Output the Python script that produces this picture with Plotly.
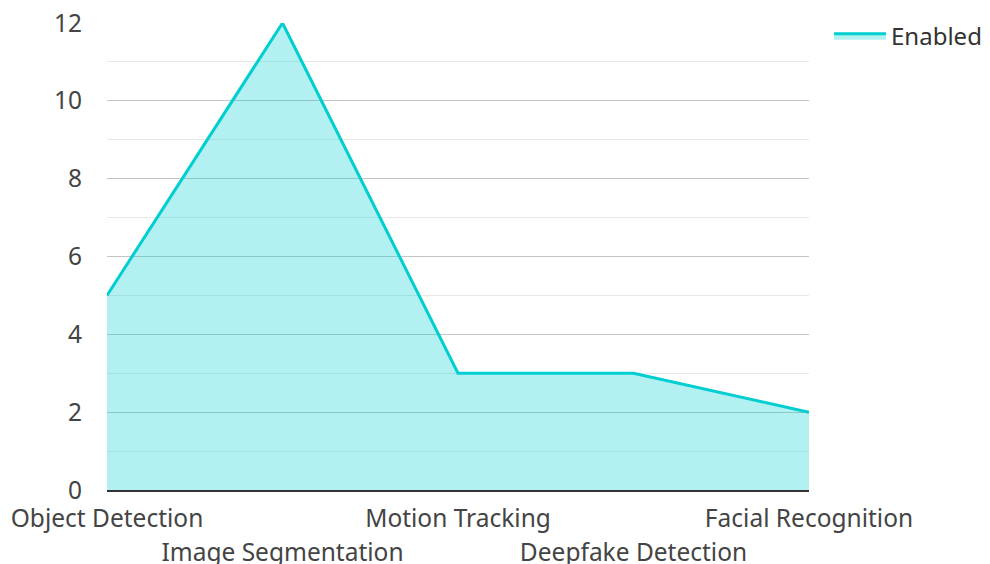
import plotly.graph_objects as go

categories = ["Object Detection", "Image Segmentation", "Motion Tracking", "Deepfake Detection", "Facial Recognition"]
values = [5, 12, 3, 3, 2]
series_name = "Enabled"

row1 = [c for i, c in enumerate(categories) if i % 2 == 0]
row2 = [c for i, c in enumerate(categories) if i % 2 == 1]

FONT = "Noto Sans"
fig = go.Figure()
fig.add_trace(go.Scatter(
    x=categories, y=values, name=series_name, mode="lines",
    line=dict(color="#00CED1", width=3),
    fill="tozeroy", fillcolor="rgba(0,206,209,0.3)",
))
fig.add_trace(go.Scatter(
    x=categories, y=values, xaxis="x2", mode="lines", showlegend=False,
    line=dict(width=0), opacity=0, hoverinfo="skip",
))
fig.update_layout(
    width=982, height=556,
    margin=dict(l=99, r=181, t=15, b=74, autoexpand=False),
    paper_bgcolor="white", plot_bgcolor="white",
    font=dict(family=FONT, size=24.5, color="#444"),
    showlegend=True,
    legend=dict(x=1.0285, y=0.972, xanchor="left", yanchor="middle",
                itemwidth=52,
                font=dict(size=24, color="#333"), bgcolor="rgba(0,0,0,0)"),
    xaxis=dict(
        type="category", categoryorder="array", categoryarray=categories,
        range=[0, len(categories) - 1], automargin=False,
        tickmode="array", tickvals=row1, ticktext=row1,
        showgrid=False, zeroline=False, showline=True, linecolor="#333", linewidth=2,
        ticks="", ticklabelstandoff=6, ticklabeloverflow="allow",
    ),
    xaxis2=dict(
        type="category", categoryorder="array", categoryarray=categories,
        overlaying="x", side="bottom", matches="x", automargin=False,
        tickmode="array", tickvals=row2, ticktext=row2,
        showgrid=False, zeroline=False, showline=False,
        ticks="", ticklabelstandoff=45, ticklabeloverflow="allow",
    ),
    yaxis=dict(
        range=[0, 12], dtick=2, tick0=0, automargin=False,
        showgrid=True, gridcolor="#c4c4c4", gridwidth=1,
        zeroline=False, showline=False, ticks="", ticklabelstandoff=24,
        ticklabeloverflow="allow",
        minor=dict(dtick=1, showgrid=True, gridcolor="#e8e8e8", gridwidth=1),
    ),
)
fig.write_html("out.html")
